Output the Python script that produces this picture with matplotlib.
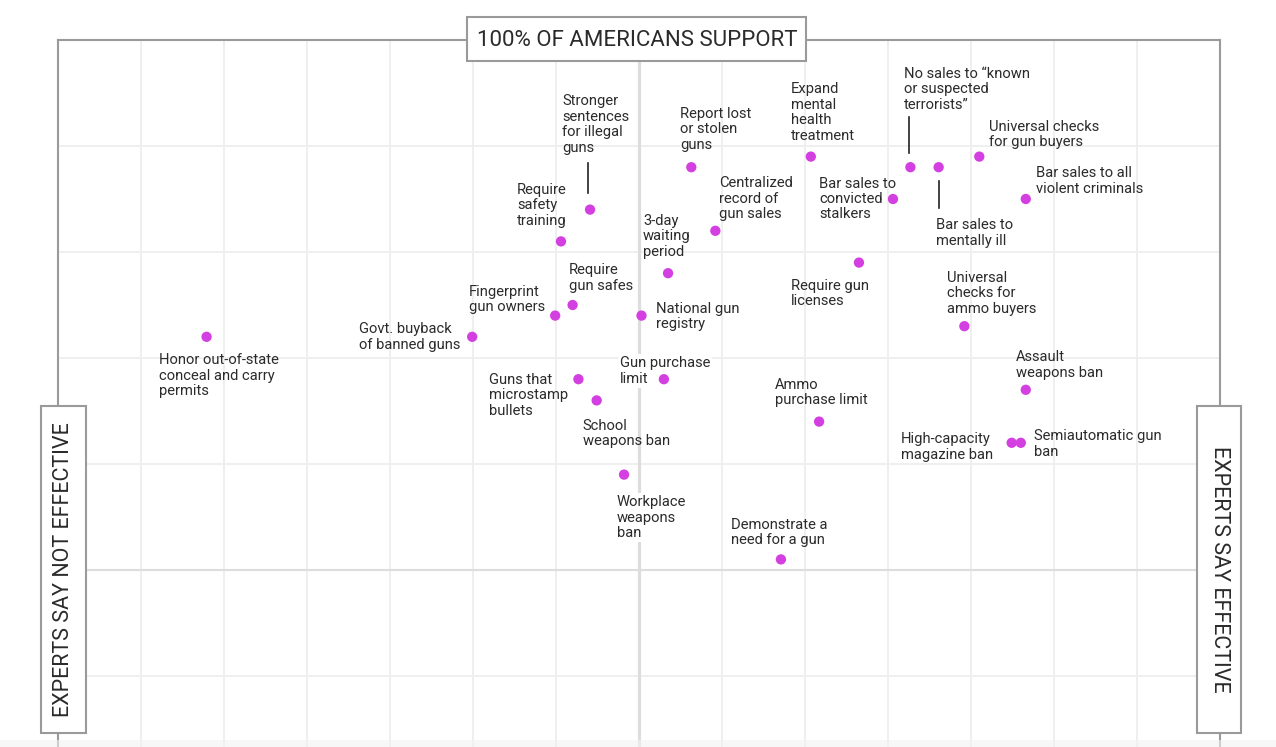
"""Gun policy ideas: public support vs. expert-rated effectiveness (matplotlib)."""

import matplotlib

matplotlib.use("Agg")

import matplotlib.pyplot as plt  # noqa: E402
from matplotlib.patches import Rectangle  # noqa: E402

W, H, DPI = 1276, 747, 100

_DOT = "#d33fe0"
_TEXT = "#2b2b2b"
_GRID = "#eeeeee"
_MID = "#dddddd"
_FRAME = "#9a9a9a"
_FONT = ["Roboto", "DejaVu Sans"]

policies = [
    "Stronger\nsentences\nfor illegal\nguns",
    "Require\nsafety\ntraining",
    "Report lost\nor stolen\nguns",
    "Expand\nmental\nhealth\ntreatment",
    "No sales to \u201cknown\nor suspected\nterrorists\u201d",
    "Universal checks\nfor gun buyers",
    "Centralized\nrecord of\ngun sales",
    "Bar sales to\nconvicted\nstalkers",
    "Bar sales to all\nviolent criminals",
    "Bar sales to\nmentally ill",
    "3-day\nwaiting\nperiod",
    "Require\ngun safes",
    "Fingerprint\ngun owners",
    "National gun\nregistry",
    "Govt. buyback\nof banned guns",
    "Require gun\nlicenses",
    "Universal\nchecks for\nammo buyers",
    "Honor out-of-state\nconceal and carry\npermits",
    "Gun purchase\nlimit",
    "Guns that\nmicrostamp\nbullets",
    "School\nweapons ban",
    "Ammo\npurchase limit",
    "Assault\nweapons ban",
    "High-capacity\nmagazine ban",
    "Semiautomatic gun\nban",
    "Workplace\nweapons\nban",
    "Demonstrate a\nneed for a gun",
]
# expert effectiveness, centred on 0 (one grid column per unit)
expert_score = [
    -0.59, -0.94, 0.63, 2.07, 3.27, 4.10, 0.92, 3.06, 4.66, 3.61,
    0.35, -0.80, -1.01, 0.03, -2.01, 2.65, 3.92, -5.21, 0.30, -0.73,
    -0.51, 2.17, 4.66, 4.49, 4.60, -0.18, 1.71,
]
# share of Americans in support (%)
support = [
    84, 81, 88, 89, 88, 89, 82, 85, 85, 88,
    78, 75, 74, 74, 72, 79, 73, 72, 68, 68,
    66, 64, 67, 62, 62, 59, 51,
]

# label placement: pixel offset from the dot to the left / middle of the text block
label_dx = [-28, -44, -11, -20, -6, 10, 4, -74, 10, -3,
            -25, -4, -86, 15, -113, -68, -17, -48, -44, -89,
            -14, -44, -10, -111, 13, -7, -50]
label_dy = [85, 36, 38, 44, 78, 22, 32, 0, 18, -66,
            37, 27, 16, -1, 0, -31, 33, -39, 8, -16,
            -33, 29, 25, -4, -1, -43, 27]
# labels that knock a gap out of the centre line
masked = {18, 25}
# leader lines: policy index -> (x shift px, start px, end px) relative to the dot
leaders = {0: (-2, 17, 47), 4: (-1, 14, 50), 9: (0, -14, -41)}

PX_X = 83.0   # pixels per expert-score unit
PX_Y = 10.6   # pixels per percentage point


def _fx(px: float) -> float:
    return px / W


def _fy(py: float) -> float:
    return 1.0 - py / H


def _box(fig, x0, y0, x1, y1):
    fig.patches.append(
        Rectangle((_fx(x0), _fy(y1)), _fx(x1) - _fx(x0), _fy(y0) - _fy(y1),
                  transform=fig.transFigure, facecolor="white", edgecolor=_FRAME,
                  linewidth=1.5, zorder=5)
    )


fig = plt.figure(figsize=(W / DPI, H / DPI), dpi=DPI)
ax = fig.add_axes([_fx(58), _fy(782), _fx(1220) - _fx(58), _fy(40) - _fy(782)])
ax.set_xlim(-7, 7)
ax.set_ylim(30, 100)

for gx in range(-6, 7):
    if gx != 0:
        ax.axvline(gx, color=_GRID, linewidth=1.3, zorder=0)
for gy in range(40, 100, 10):
    if gy == 50:
        ax.axhline(gy, color=_MID, linewidth=1.5, zorder=0)
    else:
        ax.axhline(gy, color=_GRID, linewidth=1.3, zorder=0)
ax.axvline(0, color=_MID, linewidth=2.3, zorder=1)

ax.scatter(expert_score, support, s=55, color=_DOT, edgecolors="none", zorder=4)

for i, text in enumerate(policies):
    bbox = {"boxstyle": "square,pad=0.15", "fc": "white", "ec": "none"} if i in masked else None
    ax.annotate(
        text,
        xy=(expert_score[i], support[i]),
        xytext=(label_dx[i], label_dy[i]),
        textcoords="offset pixels",
        ha="left",
        va="center",
        fontsize=10.6,
        linespacing=1.13,
        color=_TEXT,
        family=_FONT,
        bbox=bbox,
        zorder=3,
    )

for i, (sx, a, b) in leaders.items():
    x = expert_score[i] + sx / PX_X
    ax.plot([x, x], [support[i] + a / PX_Y, support[i] + b / PX_Y],
            color="#222222", linewidth=1.2, zorder=3)

ax.spines["bottom"].set_visible(False)
for side in ("top", "left", "right"):
    ax.spines[side].set_color(_FRAME)
    ax.spines[side].set_linewidth(1.5)
ax.set_xticks([])
ax.set_yticks([])

_box(fig, 467, 17, 806, 61)
fig.text(_fx(637), _fy(40), "100% OF AMERICANS SUPPORT", ha="center", va="center",
         fontsize=16, color=_TEXT, family=_FONT, zorder=6)
_box(fig, 41, 406, 86, 733)
fig.text(_fx(64), _fy(569.5), "EXPERTS SAY NOT EFFECTIVE", ha="center", va="center",
         rotation=90, fontsize=15.5, color=_TEXT, family=_FONT, zorder=6)
_box(fig, 1197, 406, 1241, 733)
fig.text(_fx(1219), _fy(569.5), "EXPERTS SAY EFFECTIVE", ha="center", va="center",
         rotation=270, fontsize=15.5, color=_TEXT, family=_FONT, zorder=6)

# faint fold shadow along the bottom edge
fig.patches.append(Rectangle((0, 0), 1, _fy(740), transform=fig.transFigure,
                             facecolor="#f2f2f2", edgecolor="none", alpha=0.6, zorder=7))

fig.savefig("out.png", dpi=DPI)
plt.close(fig)
